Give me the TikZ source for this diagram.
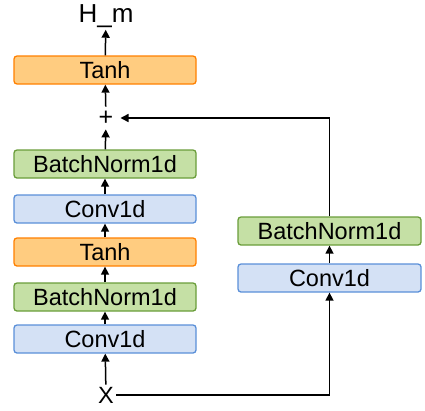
\documentclass[tikz,border=0pt]{standalone}
\usepackage{fontspec}
\setmainfont{Liberation Sans}
\usetikzlibrary{arrows.meta}
\definecolor{orfill}{HTML}{FFCC80}
\definecolor{ordraw}{HTML}{FF8000}
\definecolor{gnfill}{HTML}{C5E0A5}
\definecolor{gndraw}{HTML}{6A9D3A}
\definecolor{blfill}{HTML}{D4E1F5}
\definecolor{bldraw}{HTML}{5A8FD8}
\begin{document}
\begin{tikzpicture}[x=1pt,y=-1pt,
  blk/.style={draw, rounded corners=3pt, line width=1.3pt, minimum width=182pt, minimum height=28pt, inner sep=0pt, font=\fontsize{23.5}{27}\selectfont},
  tanhbox/.style={blk, fill=orfill, draw=ordraw},
  bnbox/.style={blk, fill=gnfill, draw=gndraw},
  convbox/.style={blk, fill=blfill, draw=bldraw},
  lbl/.style={inner sep=2pt, font=\fontsize{23.5}{27}\selectfont},
  arr/.style={-{Triangle[length=8pt,width=8pt]}, line width=1.5pt}]
\useasboundingbox (0,0) rectangle (425,410);
\node[tanhbox] (t2) at (105,70) {Tanh};
\node[lbl, font=\fontsize{26}{30}\selectfont] (h) at (106,16) {H\_m};
\node[lbl, font=\fontsize{25}{30}\selectfont, inner xsep=7pt, inner ysep=4pt] (plus) at (106,118) {+};
\node[bnbox] (bn2) at (105,164) {BatchNorm1d};
\node[convbox] (c2) at (105,209) {Conv1d};
\node[tanhbox] (t1) at (105,252) {Tanh};
\node[bnbox] (bn1) at (105,297) {BatchNorm1d};
\node[convbox] (c1) at (105,339) {Conv1d};
\node[lbl] (x) at (106,395) {X};
\node[bnbox, minimum width=183pt] (bn3) at (329.5,231) {BatchNorm1d};
\node[convbox, minimum width=183pt] (c3) at (329.5,278) {Conv1d};
\draw[arr] (x) -- (c1);
\draw[arr] (c1) -- (bn1);
\draw[arr] (bn1) -- (t1);
\draw[arr] (t1) -- (c2);
\draw[arr] (c2) -- (bn2);
\draw[arr] (bn2) -- (plus);
\draw[arr] (plus) -- (t2);
\draw[arr] (t2) -- (h);
\draw[arr] (x.east) -| (c3.south);
\draw[arr] (c3) -- (bn3);
\draw[arr] (bn3.north) |- (plus.east);
\end{tikzpicture}
\end{document}
